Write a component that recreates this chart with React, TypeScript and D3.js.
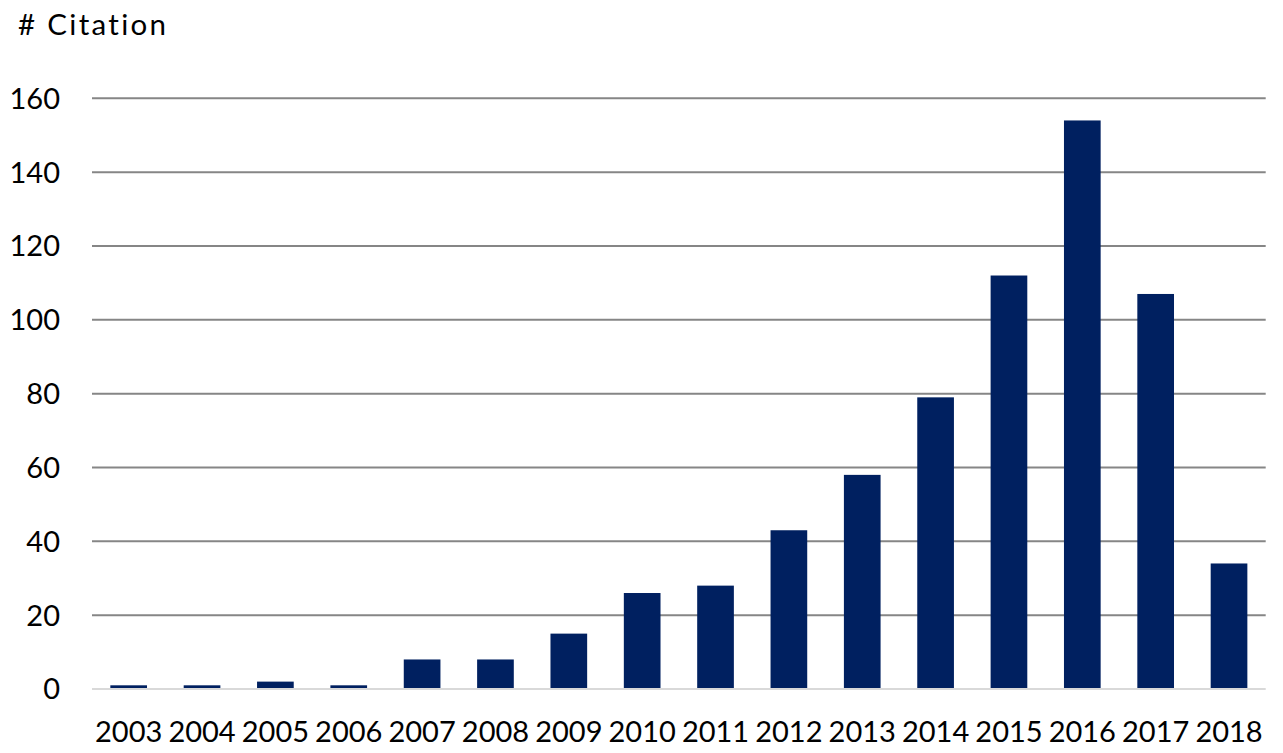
import React from 'react'
import * as d3 from 'd3'

// 연도별 인용 수
const years = ['2003', '2004', '2005', '2006', '2007', '2008', '2009', '2010', '2011', '2012', '2013', '2014', '2015', '2016', '2017', '2018']
const citations = [1, 1, 2, 1, 8, 8, 15, 26, 28, 43, 58, 79, 112, 154, 107, 34]
const yTicks = [0, 20, 40, 60, 80, 100, 120, 140, 160]
const titleText = '# Citation'

const W = 1283
const H = 753
const FONT = 'Lato, "Open Sans", sans-serif'

export default function App() {
  const margin = { left: 92, right: 17.3, top: 98.3, bottom: 64 }

  const x = d3.scaleBand<string>()
    .domain(years)
    .range([margin.left, W - margin.right])
    .paddingInner(0.5)
    .paddingOuter(0.25)

  const y = d3.scaleLinear()
    .domain([0, 160])
    .range([H - margin.bottom, margin.top])

  return (
    <div style={{ position: 'absolute', left: 0, top: 0 }}>
      <svg width={W} height={H} style={{ display: 'block', background: '#fff' }}>
        {/* 제목 */}
        <text x={18} y={35} fontFamily={FONT} fontSize={29.5} letterSpacing={2.3} fill="#000">
          {titleText}
        </text>

        {/* 격자선 */}
        {yTicks.map(t => (
          <line
            key={t}
            x1={margin.left}
            x2={W - margin.right}
            y1={y(t)}
            y2={y(t)}
            stroke={t === 0 ? '#d9d9d9' : '#868686'}
            strokeWidth={2}
          />
        ))}

        {/* y축 라벨 */}
        {yTicks.map(t => (
          <text
            key={'l' + t}
            x={60}
            y={y(t)}
            dy="0.36em"
            textAnchor="end"
            fontFamily={FONT}
            fontSize={29}
            fill="#000"
          >
            {t}
          </text>
        ))}

        {/* 막대 */}
        {years.map((yr, i) => (
          <rect
            key={yr}
            x={x(yr)}
            y={y(citations[i])}
            width={x.bandwidth()}
            height={y(0) - y(citations[i]) - 1}
            fill="#002060"
          />
        ))}

        {/* x축 라벨 */}
        {years.map(yr => (
          <text
            key={'x' + yr}
            x={(x(yr) ?? 0) + x.bandwidth() / 2}
            y={742}
            textAnchor="middle"
            fontFamily={FONT}
            fontSize={29}
            fill="#000"
          >
            {yr}
          </text>
        ))}
      </svg>
    </div>
  )
}
